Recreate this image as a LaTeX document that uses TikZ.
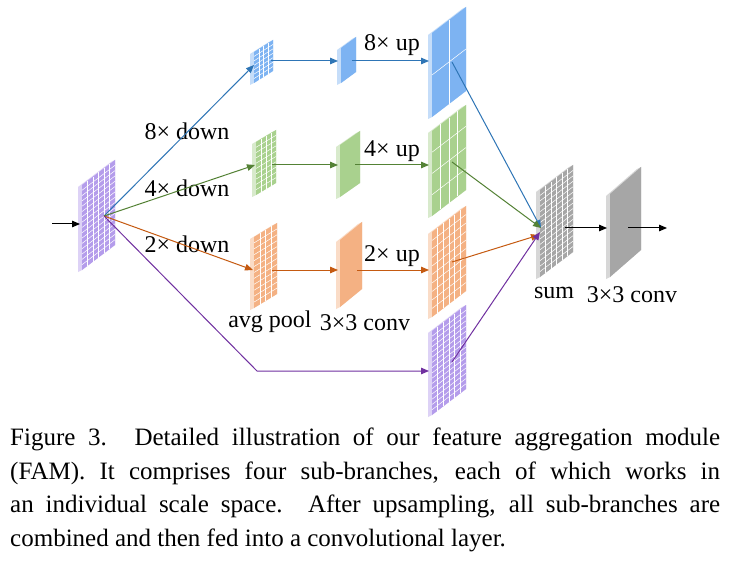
\documentclass[tikz,border=0pt]{standalone}
\usepackage{fontspec}
\setmainfont{Liberation Serif}
\usetikzlibrary{arrows.meta}
\definecolor{cblue}{HTML}{2E75B6}\definecolor{fblue}{HTML}{7DB3F2}
\definecolor{cgreen}{HTML}{548235}\definecolor{fgreen}{HTML}{A9D18E}
\definecolor{corange}{HTML}{C55A11}\definecolor{forange}{HTML}{F4B183}
\definecolor{cpurple}{HTML}{7030A0}\definecolor{fpurple}{HTML}{B49CEB}
\definecolor{fgray}{HTML}{A6A6A6}
\newcommand\fmap[9]{% name,x1,x2,yT,yB,rise,color,cols,rows
 \fill[#7!45] (#2-4,#5+2) -- (#2-4,#4+2) -- (#3-4,#4-#6+2) -- (#3,#4-#6) -- (#3,#5-#6) -- (#2,#5) -- cycle;
 \fill[#7] (#2,#5) -- (#2,#4) -- (#3,#4-#6) -- (#3,#5-#6) -- cycle;
 \ifnum#8>1 \foreach \i in {1,...,\numexpr#8-1\relax}{\draw[white,line width=0.5pt] ({#2+\i*(#3-#2)/#8},{#5-\i*#6/#8}) -- ({#2+\i*(#3-#2)/#8},{#4-\i*#6/#8});}\fi
 \ifnum#9>1 \foreach \j in {1,...,\numexpr#9-1\relax}{\draw[white,line width=0.5pt] (#2,{#4+\j*(#5-#4)/#9}) -- (#3,{#4+\j*(#5-#4)/#9-#6});}\fi
 \coordinate (#1) at ({(#2+#3)/2},{(#4+#5-#6)/2});
}
\newcommand\capline[1]{\makebox[710pt][s]{#1}}
\begin{document}
\begin{tikzpicture}[x=1pt,y=-1pt,
 ln/.style={line width=1pt,-{Triangle[length=8pt,width=6.5pt]}},
 lab/.style={font=\fontsize{24}{26}\selectfont,inner sep=0pt}]
\useasboundingbox[fill=white] (0,0) rectangle (747,564);
% feature maps
\fmap{in}{82}{115}{185}{270}{25}{fpurple}{6}{16}
\fmap{b1}{254}{273}{52}{83}{12}{fblue}{4}{7}
\fmap{b2}{341}{356}{48}{83}{11}{fblue}{1}{1}
\fmap{b3}{432}{466}{33}{117}{26}{fblue}{2}{2}
\fmap{g1}{256}{276}{142}{195}{12}{fgreen}{4}{10}
\fmap{g2}{340}{360}{145}{197}{14}{fgreen}{1}{1}
\fmap{g3}{432}{466}{131}{216}{26}{fgreen}{4}{4}
\fmap{o1}{254}{277}{237}{308}{14}{forange}{4}{12}
\fmap{o2}{340}{362}{240}{307}{18}{forange}{1}{1}
\fmap{o3}{432}{466}{232}{317}{26}{forange}{6}{10}
\fmap{p3}{432}{466}{331}{415}{26}{fpurple}{6}{16}
\fmap{s}{540}{573}{190}{277}{25}{fgray}{6}{16}
\fmap{c}{610}{641}{194}{277}{27}{fgray}{1}{1}
% named connector points
\coordinate (inL) at (52,224); \coordinate (inE) at (80,224);
\coordinate (o) at (104,216);
\coordinate (b1in) at (254,65); \coordinate (b1out) at (271,61); \coordinate (b2in) at (338,61); \coordinate (b2out) at (352,61); \coordinate (b3in) at (429,61); \coordinate (b3c) at (452,62);
\coordinate (g1in) at (255,165); \coordinate (g1out) at (272,165); \coordinate (g2in) at (338,165); \coordinate (g2out) at (355,165); \coordinate (g3in) at (429,165); \coordinate (g3c) at (452,162);
\coordinate (o1in) at (253,270); \coordinate (o1out) at (272,270); \coordinate (o2in) at (338,270); \coordinate (o2out) at (357,270); \coordinate (o3in) at (429,270); \coordinate (o3c) at (452,262);
\coordinate (pk) at (257,371); \coordinate (p3in) at (429,371); \coordinate (p3c) at (452,362);
\coordinate (sb) at (541,228); \coordinate (so) at (539,235); \coordinate (sp) at (540,232);
\coordinate (sout) at (565,228); \coordinate (cin) at (607,228); \coordinate (cout) at (628,228); \coordinate (end) at (667,228);
% labels
\node[lab] (l8d) at (187,131) {8× down};
\node[lab] (l4d) at (187,188) {4× down};
\node[lab] (l2d) at (187,244) {2× down};
\node[lab] (l8u) at (392,45) {8× up};
\node[lab] (l4u) at (392,151) {4× up};
\node[lab] (l2u) at (392,256) {2× up};
\node[lab] (lap) at (270,322) {avg pool};
\node[lab] (lc1) at (365,323) {3×3 conv};
\node[lab] (lsum) at (554,293) {sum};
\node[lab] (lc2) at (632,295) {3×3 conv};
% connectors
\draw[ln,black] (inL) -- (inE);
\draw[ln,cblue] (o) -- (b1in); \draw[ln,cblue] (b1out) -- (b2in); \draw[ln,cblue] (b2out) -- (b3in);
\draw[ln,cgreen] (o) -- (g1in); \draw[ln,cgreen] (g1out) -- (g2in); \draw[ln,cgreen] (g2out) -- (g3in);
\draw[ln,corange] (o) -- (o1in); \draw[ln,corange] (o1out) -- (o2in); \draw[ln,corange] (o2out) -- (o3in);
\draw[ln,cpurple] (o) -- (pk) -- (p3in);
\draw[ln,cblue] (b3c) -- (sb);
\draw[ln,cgreen] (g3c) -- (sb);
\draw[ln,corange] (o3c) -- (so);
\draw[ln,cpurple] (p3c) -- (sp);
\draw[ln,black] (sout) -- (cin); \draw[ln,black] (cout) -- (end);
% caption
\node[anchor=north west,inner sep=0pt,align=left,font=\fontsize{25}{33.5}\selectfont] (cap) at (10,428)
 {\capline{Figure 3. Detailed illustration of our feature aggregation module}\\
  \capline{(FAM). It comprises four sub-branches, each of which works in}\\
  \capline{an individual scale space. After upsampling, all sub-branches are}\\
  combined and then fed into a convolutional layer.};
\end{tikzpicture}
\end{document}
